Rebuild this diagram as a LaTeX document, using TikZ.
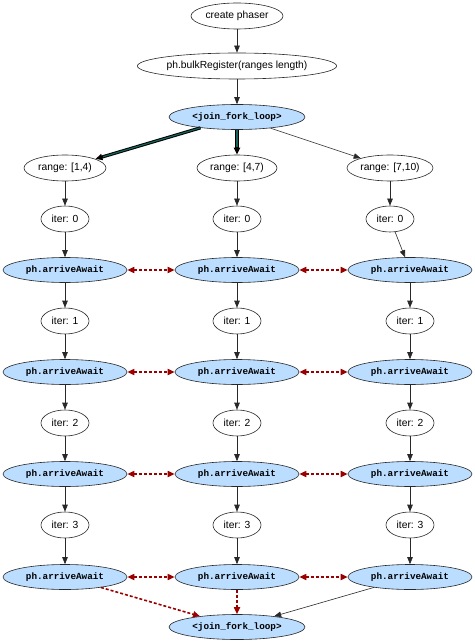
\documentclass[tikz,border=0pt]{standalone}
\usepackage{fontspec}
\setmainfont{Liberation Sans}
\newfontfamily\codefont{Liberation Mono}
\usetikzlibrary{shapes.geometric,arrows.meta}
\definecolor{nodeblue}{RGB}{187,221,255}
\definecolor{edgered}{RGB}{155,0,0}
\definecolor{tealcore}{RGB}{20,100,90}
\definecolor{linegray}{RGB}{40,40,40}
\tikzset{
  plain/.style={ellipse, draw=linegray, line width=0.6pt, inner sep=0pt, minimum height=26pt, font=\fontsize{10.3}{12}\selectfont},
  code/.style={ellipse, draw=linegray, line width=0.6pt, fill=nodeblue, inner sep=0pt, minimum height=25pt, minimum width=124pt, font=\codefont\bfseries\fontsize{9.3}{11}\selectfont},
  tip/.style={-{Triangle[length=7pt,width=5.5pt]}},
  flow/.style={tip, draw=linegray, line width=0.6pt},
  sync/.style={{Triangle[length=7pt,width=6pt]}-{Triangle[length=7pt,width=6pt]}, draw=edgered, line width=1.6pt, dash pattern=on 3pt off 2pt},
  syncone/.style={-{Triangle[length=7pt,width=6pt]}, draw=edgered, line width=1.6pt, dash pattern=on 3pt off 2pt},
  fat/.style={-{Triangle[length=7pt,width=6pt]}, draw=black, line width=3.2pt},
  fatcore/.style={draw=tealcore, line width=1.2pt, shorten >=8pt},
}
\begin{document}
\begin{tikzpicture}[x=1pt,y=-1pt]
\useasboundingbox (0,0) rectangle (474,644);
\node[plain, minimum width=92pt] (cp) at (237,16) {create phaser};
\node[plain, minimum width=186pt] (bulk) at (237,66) {ph.bulkRegister(ranges length)};
\node[code, minimum width=136pt] (jtop) at (237,117) {<join\_fork\_loop>};
\node[plain, minimum width=82pt] (r1) at (65,168) {range: [1,4)};
\node[plain, minimum width=80pt] (r2) at (237,168) {range: [4,7)};
\node[plain, minimum width=86pt] (r3) at (390,168) {range: [7,10)};
% iter nodes
\node[plain, minimum width=48pt] (i10) at (65,219) {iter: 0};
\node[plain, minimum width=48pt] (i20) at (237,219) {iter: 0};
\node[plain, minimum width=48pt] (i30) at (390,219) {iter: 0};
\node[plain, minimum width=48pt] (i11) at (65,321) {iter: 1};
\node[plain, minimum width=48pt] (i21) at (237,321) {iter: 1};
\node[plain, minimum width=48pt] (i31) at (410,321) {iter: 1};
\node[plain, minimum width=48pt] (i12) at (65,423) {iter: 2};
\node[plain, minimum width=48pt] (i22) at (237,423) {iter: 2};
\node[plain, minimum width=48pt] (i32) at (410,423) {iter: 2};
\node[plain, minimum width=48pt] (i13) at (65,525) {iter: 3};
\node[plain, minimum width=48pt] (i23) at (237,525) {iter: 3};
\node[plain, minimum width=48pt] (i33) at (410,525) {iter: 3};
% arrive nodes
\foreach \r/\y in {0/270,1/372,2/474,3/577}{
  \node[code] (a1\r) at (65,\y) {ph.arriveAwait};
  \node[code] (a2\r) at (237,\y) {ph.arriveAwait};
  \node[code] (a3\r) at (410,\y) {ph.arriveAwait};
}
\node[code, minimum width=136pt] (jbot) at (237,627) {<join\_fork\_loop>};
% edges
\draw[flow] (cp) -- (bulk);
\draw[flow] (bulk) -- (jtop);
\draw[fat] (jtop) -- (r1);
\draw[fatcore] (jtop) -- (r1);
\draw[fat] (jtop) -- (r2);
\draw[fatcore] (jtop) -- (r2);
\draw[flow] (jtop) -- (r3);
\foreach \c in {1,2,3}{
  \draw[flow] (r\c) -- (i\c0);
  \draw[flow] (i\c0) -- (a\c0);
  \draw[flow] (a\c0) -- (i\c1);
  \draw[flow] (i\c1) -- (a\c1);
  \draw[flow] (a\c1) -- (i\c2);
  \draw[flow] (i\c2) -- (a\c2);
  \draw[flow] (a\c2) -- (i\c3);
  \draw[flow] (i\c3) -- (a\c3);
}
\foreach \r in {0,1,2,3}{
  \draw[sync] (a1\r) -- (a2\r);
  \draw[sync] (a2\r) -- (a3\r);
}
\draw[syncone] (a13) -- (jbot);
\draw[syncone] (a23) -- (jbot);
\draw[flow] (a33) -- (jbot);
\end{tikzpicture}
\end{document}
